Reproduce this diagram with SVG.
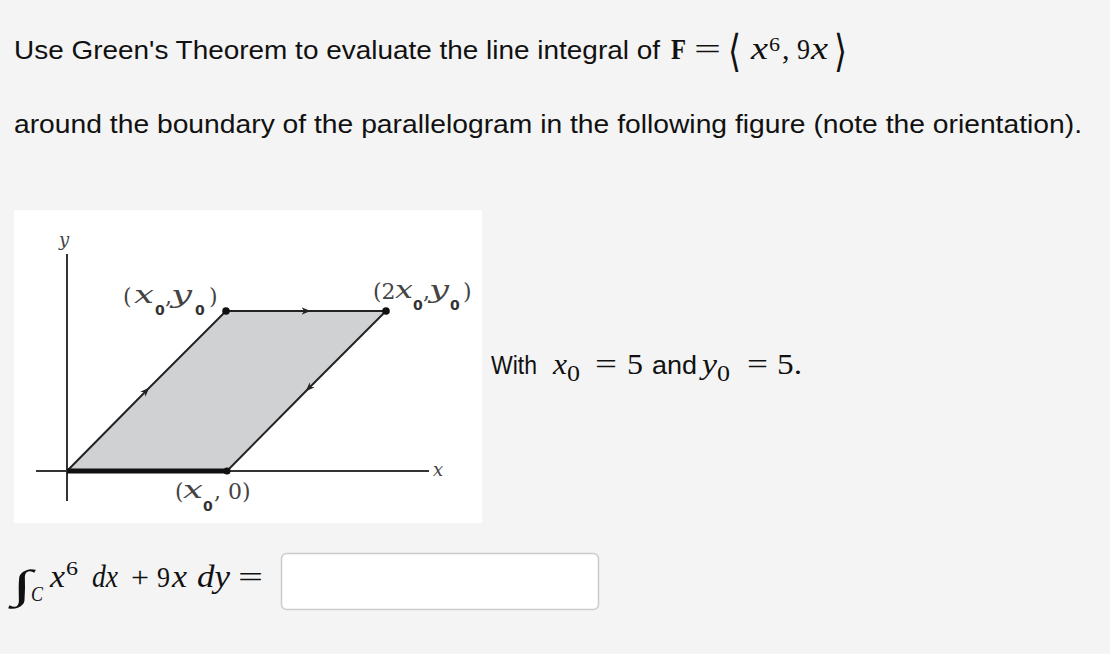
<svg xmlns="http://www.w3.org/2000/svg" width="1110" height="654" viewBox="0 0 1110 654">
<defs>
<style>
.t{font-family:"Liberation Sans",Arial,sans-serif;fill:#111}
.m{font-family:"Liberation Serif","Times New Roman",serif;font-style:italic;fill:#111}
.r{font-family:"Liberation Serif","Times New Roman",serif;fill:#111}
.br{font-family:"DejaVu Sans",sans-serif;fill:#111}
.lab{font-family:"DejaVu Serif",serif;font-style:italic;fill:#444}
.lp{font-family:"DejaVu Serif",serif;fill:#444}
.sub{font-family:"DejaVu Sans",sans-serif;font-weight:bold;fill:#333}
.edge{stroke:#222;stroke-width:2;fill:none}
</style>
<marker id="ah" viewBox="0 0 10 10" refX="5" refY="5" markerWidth="9" markerHeight="9" orient="auto" markerUnits="userSpaceOnUse">
<path d="M0,1 L10,5 L0,9 L3,5 z" fill="#222"/>
</marker>
</defs>
<rect width="1110" height="654" fill="#f4f4f4"/>
<g id="question">
<text class="t" x="14" y="59" font-size="25" textLength="646" lengthAdjust="spacingAndGlyphs">Use Green's Theorem to evaluate the line integral of</text>
<text class="r" x="671" y="59" font-size="30" font-weight="bold" textLength="15" lengthAdjust="spacingAndGlyphs">F</text>
<text class="r" x="694" y="59" font-size="30" textLength="27" lengthAdjust="spacingAndGlyphs">=</text>
<text class="br" x="728" y="66" font-size="44" textLength="13" lengthAdjust="spacingAndGlyphs">⟨</text>
<text class="m" x="751" y="59" font-size="31" textLength="17" lengthAdjust="spacingAndGlyphs">x</text>
<text class="r" x="769" y="51" font-size="19" textLength="11" lengthAdjust="spacingAndGlyphs">6</text>
<text class="r" x="782" y="59" font-size="30">,</text>
<text class="r" x="797" y="59" font-size="30" textLength="13" lengthAdjust="spacingAndGlyphs">9</text>
<text class="m" x="811" y="59" font-size="31" textLength="17" lengthAdjust="spacingAndGlyphs">x</text>
<text class="br" x="834" y="66" font-size="44" textLength="13" lengthAdjust="spacingAndGlyphs">⟩</text>
<text class="t" x="14" y="133" font-size="25" textLength="1068" lengthAdjust="spacingAndGlyphs">around the boundary of the parallelogram in the following figure (note the orientation).</text>
</g>
<g id="figure">
<rect x="14" y="210" width="468" height="313" fill="#ffffff"/>
<polygon points="67,471 227,471 386,311 226,311" fill="#d0d1d3"/>
<line x1="67" y1="254" x2="67" y2="501" stroke="#333" stroke-width="2"/>
<line x1="36" y1="471" x2="429" y2="471" stroke="#333" stroke-width="2"/>
<g id="connectors">
<line class="edge" x1="67" y1="471" x2="146" y2="391" marker-end="url(#ah)"/>
<line class="edge" x1="146" y1="391" x2="226" y2="311"/>
<line class="edge" x1="226" y1="311" x2="306" y2="311" marker-end="url(#ah)"/>
<line class="edge" x1="306" y1="311" x2="386" y2="311"/>
<line class="edge" x1="386" y1="311" x2="309" y2="388" marker-end="url(#ah)"/>
<line class="edge" x1="309" y1="388" x2="227" y2="471"/>
<line x1="67" y1="471" x2="227" y2="471" stroke="#111" stroke-width="5"/>
</g>
<circle cx="226" cy="311" r="3.8" fill="#111"/>
<circle cx="386" cy="311" r="3.8" fill="#111"/>
<circle cx="227" cy="471" r="3.5" fill="#111"/>
<text class="lab" x="59" y="246" font-size="18">y</text>
<text class="lab" x="433" y="476" font-size="18">x</text>
<g id="label-x0y0">
<text class="lp" x="123" y="304" font-size="22">(</text>
<text class="lab" x="134" y="303" font-size="25" textLength="20" lengthAdjust="spacingAndGlyphs">x</text>
<text class="sub" x="155" y="315" font-size="14">0</text>
<text class="lp" x="165" y="304" font-size="22">,</text>
<text class="lab" x="171" y="303" font-size="25" textLength="21" lengthAdjust="spacingAndGlyphs">y</text>
<text class="sub" x="195" y="315" font-size="14">0</text>
<text class="lp" x="209" y="304" font-size="22">)</text>
</g>
<g id="label-2x0y0">
<text class="lp" x="373" y="299" font-size="22">(2</text>
<text class="lab" x="395" y="298" font-size="25" textLength="18" lengthAdjust="spacingAndGlyphs">x</text>
<text class="sub" x="413" y="310" font-size="14">0</text>
<text class="lp" x="423" y="299" font-size="22">,</text>
<text class="lab" x="429" y="298" font-size="25" textLength="20" lengthAdjust="spacingAndGlyphs">y</text>
<text class="sub" x="450" y="310" font-size="14">0</text>
<text class="lp" x="463" y="299" font-size="22">)</text>
</g>
<g id="label-x00">
<text class="lp" x="175" y="499" font-size="22">(</text>
<text class="lab" x="183" y="498" font-size="25" textLength="20" lengthAdjust="spacingAndGlyphs">x</text>
<text class="sub" x="203" y="511" font-size="14">0</text>
<text class="lp" x="214" y="499" font-size="22">, 0)</text>
</g>
</g>
<g id="given">
<text class="t" x="491" y="374" font-size="25" textLength="46" lengthAdjust="spacingAndGlyphs">With</text>
<text class="m" x="553" y="374" font-size="30" textLength="14" lengthAdjust="spacingAndGlyphs">x</text>
<text class="r" x="567" y="381" font-size="23" textLength="13" lengthAdjust="spacingAndGlyphs">0</text>
<text class="r" x="595" y="374" font-size="30" textLength="22" lengthAdjust="spacingAndGlyphs">=</text>
<text class="r" x="627" y="374" font-size="30" textLength="16" lengthAdjust="spacingAndGlyphs">5</text>
<text class="t" x="652" y="374" font-size="25" textLength="45" lengthAdjust="spacingAndGlyphs">and</text>
<text class="m" x="702" y="374" font-size="30" textLength="15" lengthAdjust="spacingAndGlyphs">y</text>
<text class="r" x="717" y="381" font-size="23" textLength="13" lengthAdjust="spacingAndGlyphs">0</text>
<text class="r" x="747" y="374" font-size="30" textLength="21" lengthAdjust="spacingAndGlyphs">=</text>
<text class="r" x="777" y="374" font-size="30" textLength="25" lengthAdjust="spacingAndGlyphs">5.</text>
</g>
<g id="integral">
<text class="m" x="12" y="598" font-size="40" textLength="20" lengthAdjust="spacingAndGlyphs">∫</text>
<text class="m" x="31" y="601" font-size="22" textLength="12" lengthAdjust="spacingAndGlyphs">C</text>
<text class="m" x="50" y="587" font-size="31" textLength="15" lengthAdjust="spacingAndGlyphs">x</text>
<text class="r" x="66" y="575" font-size="19" textLength="12" lengthAdjust="spacingAndGlyphs">6</text>
<text class="m" x="92" y="587" font-size="31" textLength="26" lengthAdjust="spacingAndGlyphs">dx</text>
<text class="r" x="131" y="587" font-size="30" textLength="18" lengthAdjust="spacingAndGlyphs">+</text>
<text class="r" x="157" y="587" font-size="30" textLength="13" lengthAdjust="spacingAndGlyphs">9</text>
<text class="m" x="172" y="587" font-size="31" textLength="15" lengthAdjust="spacingAndGlyphs">x</text>
<text class="m" x="197" y="587" font-size="31" textLength="33" lengthAdjust="spacingAndGlyphs">dy</text>
<text class="r" x="238" y="587" font-size="30" textLength="25" lengthAdjust="spacingAndGlyphs">=</text>
</g>
<g id="answer-box">
<rect x="281.5" y="553.5" width="317" height="56" rx="5" fill="#fff" stroke="#ccc" stroke-width="1.5"/>
</g>
</svg>
